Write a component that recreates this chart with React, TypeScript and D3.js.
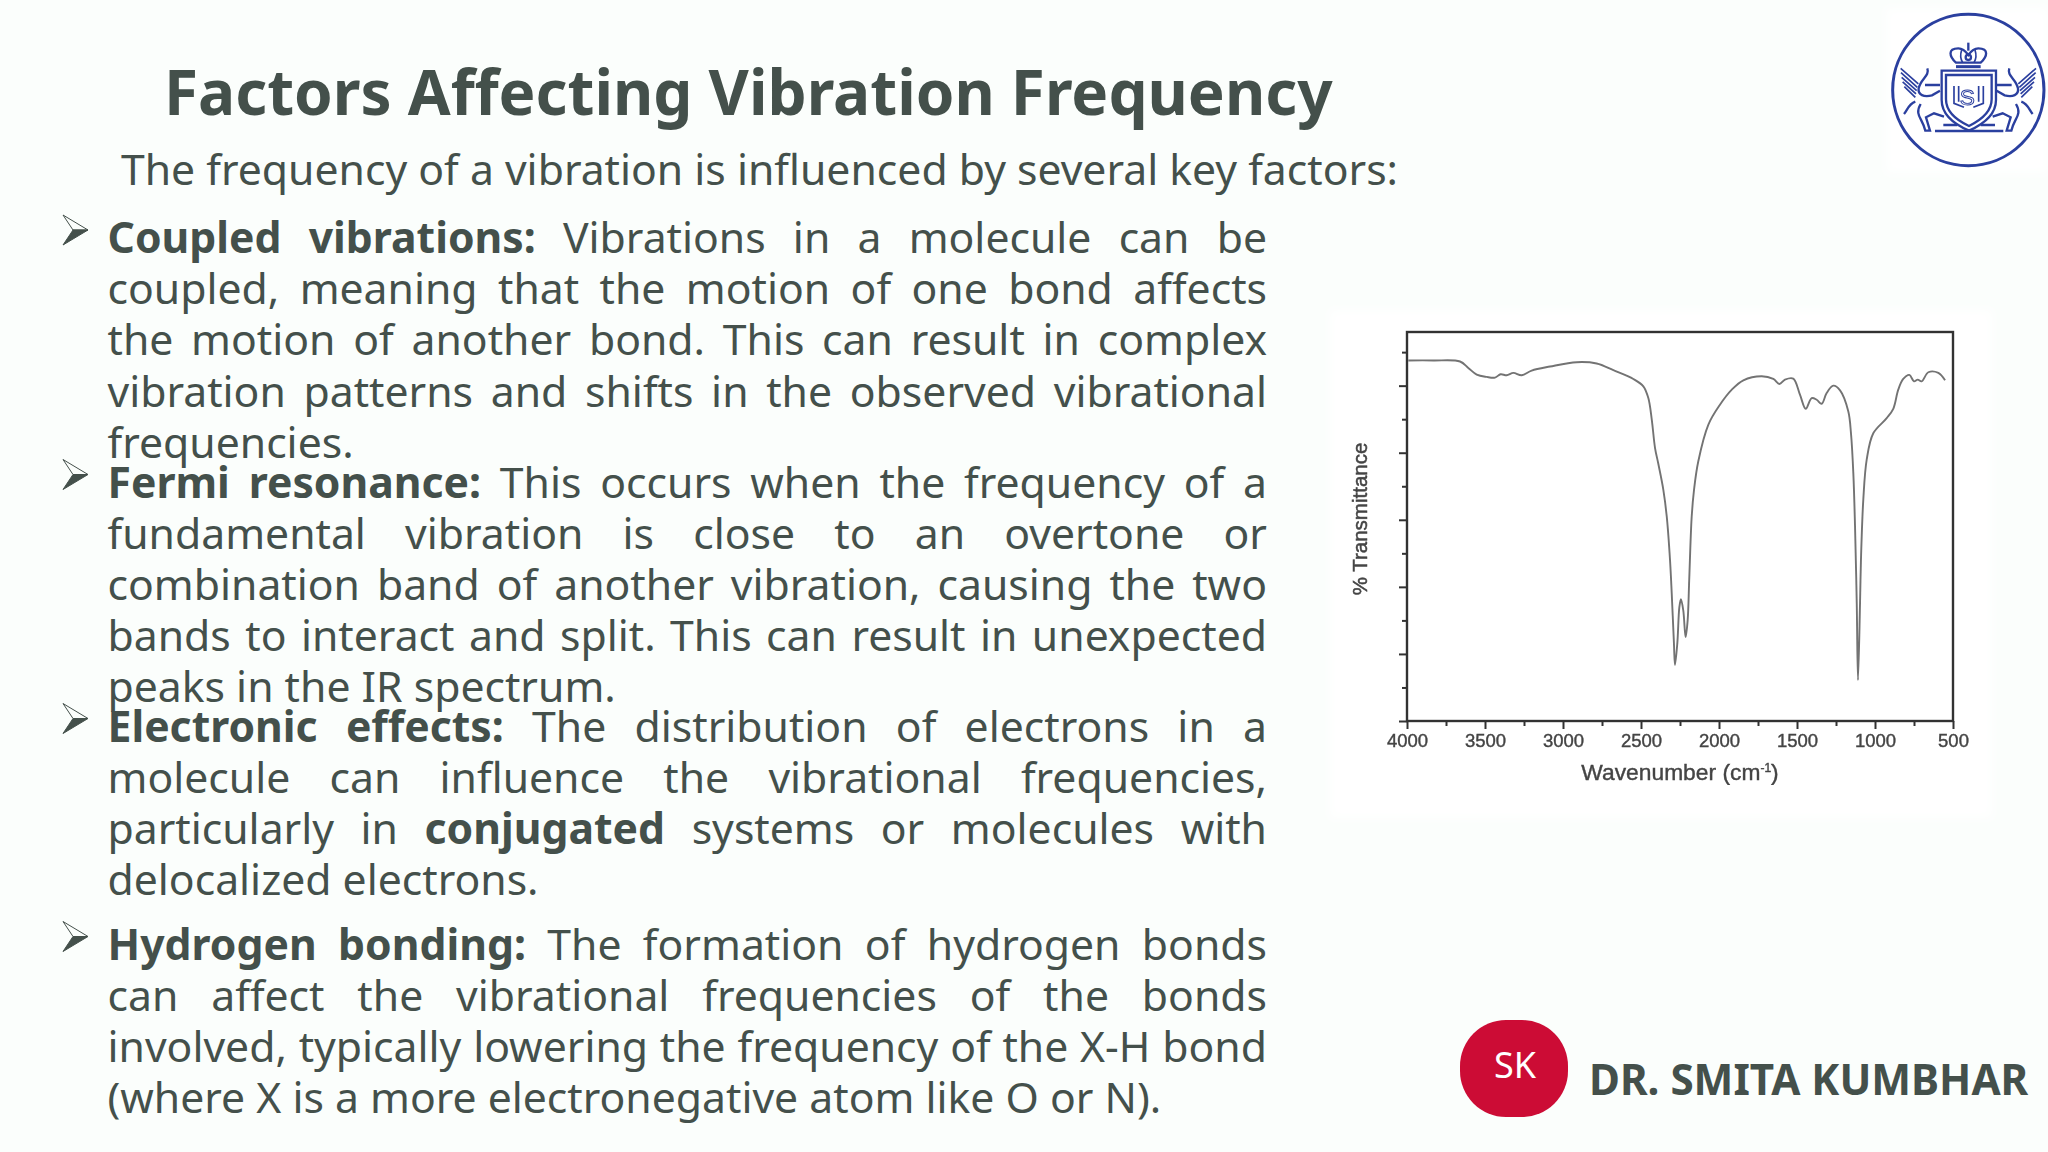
import { useEffect, useRef } from 'react';
import * as d3 from 'd3';

// spectrum
const wavenumbers = [3992, 3831, 3660, 3607, 3553, 3489, 3436, 3400, 3361, 3318, 3265, 3201, 3083, 2912, 2784, 2677, 2549, 2485, 2453, 2431, 2410, 2389, 2357, 2335, 2314, 2303, 2289, 2282, 2267, 2254, 2244, 2229, 2214, 2201, 2191, 2175, 2160, 2133, 2068, 1994, 1918, 1844, 1726, 1652, 1613, 1577, 1524, 1481, 1444, 1406, 1374, 1342, 1310, 1267, 1224, 1171, 1154, 1139, 1128, 1117, 1109, 1096, 1090, 1075, 1053, 1011, 925, 883, 851, 819, 780, 750, 726, 701, 658, 594, 551];
const transmittance = [107.5, 107.5, 107.2, 105.3, 103.3, 102.6, 102.4, 103.4, 103.1, 103.8, 103.1, 104.5, 105.7, 107, 106.6, 104.6, 102, 99.8, 96.3, 89.9, 81.4, 76.7, 69, 61, 48, 38, 23.3, 16.7, 23.3, 34, 36.3, 33, 25, 30, 42, 61, 69, 77.4, 88.4, 94.3, 98.8, 101.6, 102.8, 102, 100.5, 101.8, 102.1, 97.3, 93.1, 96.3, 95.8, 94.6, 97.8, 100, 98.6, 92.3, 85.8, 74, 58, 35, 12.2, 35, 48, 66, 78, 85.8, 90.3, 93.1, 98.8, 102, 103.2, 101.3, 101.8, 101.3, 104, 103.8, 101.6];

const xMajorTicks = [4000, 3500, 3000, 2500, 2000, 1500, 1000, 500];
const xMinorTicks = [3750, 3250, 2750, 2250, 1750, 1250, 750];
const yMajorTicks = [0, 20, 40, 60, 80, 100];
const yMinorTicks = [10, 30, 50, 70, 90, 110];

const titleText = 'Factors Affecting Vibration Frequency';
const introText = 'The frequency of a vibration is influenced by several key factors:';

// each line is a list of [text, bold] runs
type Run = [string, boolean];
const block1: Run[][] = [
  [['Coupled vibrations:', true], [' Vibrations in a molecule can be', false]],
  [['coupled, meaning that the motion of one bond affects', false]],
  [['the motion of another bond. This can result in complex', false]],
  [['vibration patterns and shifts in the observed vibrational', false]],
  [['frequencies.', false]],
];
const block2: Run[][] = [
  [['Fermi resonance:', true], [' This occurs when the frequency of a', false]],
  [['fundamental vibration is close to an overtone or', false]],
  [['combination band of another vibration, causing the two', false]],
  [['bands to interact and split. This can result in unexpected', false]],
  [['peaks in the IR spectrum.', false]],
];
const block3: Run[][] = [
  [['Electronic effects:', true], [' The distribution of electrons in a', false]],
  [['molecule can influence the vibrational frequencies,', false]],
  [['particularly in ', false], ['conjugated', true], [' systems or molecules with', false]],
  [['delocalized electrons.', false]],
];
const block4: Run[][] = [
  [['Hydrogen bonding:', true], [' The formation of hydrogen bonds', false]],
  [['can affect the vibrational frequencies of the bonds', false]],
  [['involved, typically lowering the frequency of the X-H bond', false]],
  [['(where X is a more electronegative atom like O or N).', false]],
];
const blocks = [block1, block2, block3, block4];
const blockBaselines = [253, 497.5, 741.5, 959.5];

const textColor = '#44504b';
const logoColor = '#2c3f9f';

const App = () => {
  const textRef = useRef<SVGGElement>(null);
  const chartRef = useRef<SVGGElement>(null);

  useEffect(() => {
    // slide text, justified by word spacing
    const g = d3.select(textRef.current);
    g.selectAll('*').remove();
    const left = 107.5;
    const right = 1267;
    const lineHeight = 51.2;

    blocks.forEach((lines, b) => {
      lines.forEach((runs, i) => {
        const t = g
          .append('text')
          .attr('x', left)
          .attr('y', blockBaselines[b] + i * lineHeight)
          .attr('font-family', '"Noto Sans"')
          .attr('font-size', 42.7)
          .attr('fill', textColor)
          .attr('xml:space', 'preserve')
          .style('white-space', 'pre');
        runs.forEach(([s, bold]) => {
          t.append('tspan').attr('font-weight', bold ? 700 : 400).text(s);
        });
        if (i < lines.length - 1) {
          const full = runs.map((r) => r[0]).join('');
          const gaps = full.split(' ').length - 1;
          const len = (t.node() as SVGTextElement).getComputedTextLength();
          t.style('word-spacing', `${(right - left - len) / gaps}px`);
        }
      });

      // arrow bullet
      const y0 = blockBaselines[b] - 38;
      const bullet = g.append('g').attr('transform', `translate(63,${y0})`);
      bullet.append('path').attr('d', 'M0 0 L25 15 L10 15 Z').attr('fill', 'none').attr('stroke', textColor).attr('stroke-width', 1);
      bullet.append('path').attr('d', 'M0 30 L25 15 L10 15 Z').attr('fill', textColor).attr('stroke', textColor).attr('stroke-width', 1);
    });

    // the spectrum
    const chart = d3.select(chartRef.current);
    chart.selectAll('*').remove();
    const x = d3.scaleLinear().domain([4000, 500]).range([1407, 1953]);
    const y = d3.scaleLinear().domain([0, 116]).range([721, 332]);

    chart
      .append('g')
      .attr('transform', 'translate(0,721)')
      .call(d3.axisBottom(x).tickValues(xMinorTicks).tickSize(5).tickFormat(() => ''));
    const xAxis = chart
      .append('g')
      .attr('transform', 'translate(0,721)')
      .call(d3.axisBottom(x).tickValues(xMajorTicks).tickSize(8).tickPadding(5).tickFormat(d3.format('d')));
    xAxis
      .selectAll('text')
      .attr('font-family', '"Liberation Sans"')
      .attr('font-size', 18.5)
      .attr('fill', '#444')
      .attr('stroke', '#444')
      .attr('stroke-width', 0.4);

    chart
      .append('g')
      .attr('transform', 'translate(1407,0)')
      .call(d3.axisLeft(y).tickValues(yMinorTicks).tickSize(5).tickFormat(() => ''));
    chart
      .append('g')
      .attr('transform', 'translate(1407,0)')
      .call(d3.axisLeft(y).tickValues(yMajorTicks).tickSize(8).tickFormat(() => ''));

    chart.selectAll('.domain').attr('stroke', 'none');
    chart.selectAll('.tick line').attr('stroke', '#333').attr('stroke-width', 2);

    chart
      .append('rect')
      .attr('x', 1407)
      .attr('y', 332)
      .attr('width', 546)
      .attr('height', 389)
      .attr('fill', 'none')
      .attr('stroke', '#333')
      .attr('stroke-width', 2.4);

    const line = d3
      .line<number>()
      .x((d) => x(d))
      .y((_, i) => y(transmittance[i]))
      .curve(d3.curveCatmullRom.alpha(0.5));

    chart
      .append('path')
      .datum(wavenumbers)
      .attr('d', line)
      .attr('fill', 'none')
      .attr('stroke', '#737373')
      .attr('stroke-width', 1.9);

    const xLabel = chart
      .append('text')
      .attr('x', 1680)
      .attr('y', 779.5)
      .attr('text-anchor', 'middle')
      .attr('font-family', '"Liberation Sans"')
      .attr('font-size', 22.8)
      .attr('fill', '#444')
      .attr('stroke', '#444')
      .attr('stroke-width', 0.4);
    xLabel.append('tspan').text('Wavenumber (cm');
    xLabel.append('tspan').attr('font-size', 12).attr('dy', -8).text('-1');
    xLabel.append('tspan').attr('dy', 8).text(')');

    chart
      .append('text')
      .attr('transform', 'translate(1367,519) rotate(-90)')
      .attr('text-anchor', 'middle')
      .attr('font-family', '"Liberation Sans"')
      .attr('font-size', 20.5)
      .attr('fill', '#444')
      .attr('stroke', '#444')
      .attr('stroke-width', 0.5)
      .text('% Transmittance');
  }, []);

  return (
    <svg
      width={2048}
      height={1152}
      viewBox="0 0 2048 1152"
      style={{ position: 'absolute', left: 0, top: 0, display: 'block' }}
    >
      <defs>
        <filter id="soft" x="-5%" y="-5%" width="110%" height="110%">
          <feGaussianBlur stdDeviation="0.6" />
        </filter>
        <filter id="panelEdge" x="-5%" y="-5%" width="110%" height="110%">
          <feGaussianBlur stdDeviation="5" />
        </filter>
      </defs>
      <rect width={2048} height={1152} fill="#fbfefc" />

      <text x={164} y={115} fontFamily='"Noto Sans"' fontWeight={700} fontSize={62} fill={textColor}>
        {titleText}
      </text>
      <text x={121} y={185} fontFamily='"Noto Sans"' fontSize={42.7} fill={textColor}>
        {introText}
      </text>

      <g ref={textRef} />

      {/* white panel behind the spectrum */}
      <rect x={1330} y={310} width={662} height={508} fill="#ffffff" filter="url(#panelEdge)" />
      <g ref={chartRef} filter="url(#soft)" />

      {/* logo */}
      <rect x={1886} y={8} width={162} height={165} fill="#ffffff" filter="url(#panelEdge)" />
      <g transform="translate(1850,0) scale(0.3333)" fill="none" stroke={logoColor} strokeWidth={7} filter="url(#soft)">
        <circle cx={355} cy={270} r={227} strokeWidth={9} />
        <path d="M318 188 C298 170 292 145 325 145 C340 145 348 155 355 165 C362 155 370 145 385 145 C418 145 412 170 392 188 Z" />
        <path d="M335 150 C330 165 332 178 338 188 M375 150 C380 165 378 178 372 188" strokeWidth={5} />
        <path d="M318 200 H392" strokeWidth={9} />
        <circle cx={355} cy={172} r={8} />
        <path d="M355 128 V152" />
        <path d="M275 212 H438 V300 C438 345 395 375 357 392 C318 375 275 345 275 300 Z" />
        <path d="M288 225 H425 V298 C425 335 390 362 357 378 C322 362 288 335 288 298 Z" />
        <path d="M312 258 V310 L342 322 M326 258 V305 M400 258 V310 L370 322 M386 258 V305" strokeWidth={5} />
        <path d="M255 393 H460 M280 375 H322 M392 375 H435" />
        {[0, 1].map((i) => (
          <g key={i} transform={i ? 'translate(710,0) scale(-1,1)' : undefined}>
            <path d="M152 205 L205 252 M153 218 L202 262 M155 232 L200 272 M158 246 L198 282 M163 260 L196 292" strokeWidth={5} />
            <path d="M232 205 C240 228 212 236 206 265 C203 285 222 292 246 286 L270 272 M225 255 H270" />
            <path d="M196 305 C176 312 172 330 162 342 M212 312 C192 345 218 355 226 392 H240 L228 352 L252 340 L282 350" />
          </g>
        ))}
        <text x={352} y={314} textAnchor="middle" fontFamily='"Liberation Sans"' fontSize={68} strokeWidth={3}>
          S
        </text>
      </g>

      {/* author badge */}
      <rect x={1460} y={1020} width={108} height={97} rx={46} ry={46} fill="#cc0c35" />
      <text x={1515} y={1078} textAnchor="middle" fontFamily='"Noto Sans"' fontSize={36} fill="#ffffff">
        SK
      </text>
      <text x={1589} y={1095} fontFamily='"Noto Sans"' fontWeight={700} fontSize={42.2} fill={textColor}>
        DR. SMITA KUMBHAR
      </text>
    </svg>
  );
};

export default App;
